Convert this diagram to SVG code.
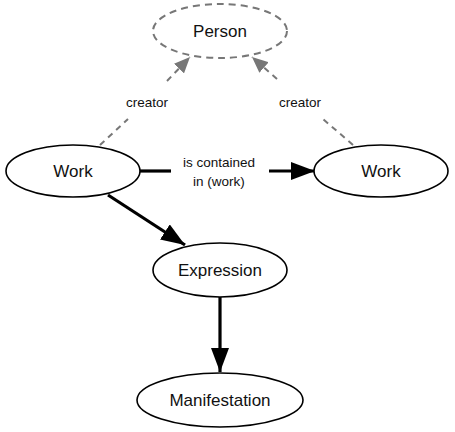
<svg xmlns="http://www.w3.org/2000/svg" width="455" height="432" viewBox="0 0 455 432">
<style>
.node{fill:#fff;stroke:#000;stroke-width:1.6}
.dnode{fill:#fff;stroke:#777;stroke-width:2;stroke-dasharray:7,5}
.nl{font-family:"Liberation Sans",Arial,sans-serif;font-size:17px;fill:#111;text-anchor:middle;dominant-baseline:central}
.el{font-family:"Liberation Sans",Arial,sans-serif;font-size:13.5px;fill:#111;text-anchor:middle;dominant-baseline:central}
.thick{stroke:#000;stroke-width:3.2;fill:none}
.dash{stroke:#777;stroke-width:2;stroke-dasharray:6,5;fill:none}
</style>
<defs>
<marker id="ab" markerUnits="userSpaceOnUse" markerWidth="24" markerHeight="18" refX="24" refY="9" orient="auto">
<path d="M0,0 L24,9 L0,18 Z" fill="#000"/>
</marker>
<marker id="ag" markerUnits="userSpaceOnUse" markerWidth="16" markerHeight="14" refX="16" refY="7" orient="auto">
<path d="M0,0 L16,7 L0,14 Z" fill="#777"/>
</marker>
</defs>
<g id="connectors">
<line class="dash" x1="100" y1="145" x2="128" y2="119"/>
<line class="dash" x1="167" y1="81" x2="190" y2="57" marker-end="url(#ag)"/>
<line class="dash" x1="353" y1="145" x2="323" y2="119"/>
<line class="dash" x1="277" y1="79" x2="252" y2="57" marker-end="url(#ag)"/>
<text class="el" x="147" y="102">creator</text>
<text class="el" x="300" y="102">creator</text>
<line class="thick" x1="140" y1="171" x2="171" y2="171"/>
<line class="thick" x1="269" y1="171" x2="315" y2="171" marker-end="url(#ab)"/>
<text class="el" x="219" y="162">is contained</text>
<text class="el" x="219" y="181">in (work)</text>
<line class="thick" x1="108" y1="195" x2="185" y2="245" marker-end="url(#ab)"/>
<line class="thick" x1="220" y1="297" x2="220" y2="372" marker-end="url(#ab)"/>
</g>
<g id="person"><ellipse class="dnode" cx="220" cy="31" rx="67" ry="27"/><text class="nl" x="220" y="31">Person</text></g>
<g id="work1"><ellipse class="node" cx="73" cy="171" rx="67" ry="26"/><text class="nl" x="73" y="171">Work</text></g>
<g id="work2"><ellipse class="node" cx="381" cy="171" rx="67" ry="26"/><text class="nl" x="381" y="171">Work</text></g>
<g id="expression"><ellipse class="node" cx="220" cy="270" rx="67" ry="27"/><text class="nl" x="220" y="270">Expression</text></g>
<g id="manifestation"><ellipse class="node" cx="220" cy="400" rx="83" ry="27"/><text class="nl" x="220" y="400">Manifestation</text></g>
</svg>
